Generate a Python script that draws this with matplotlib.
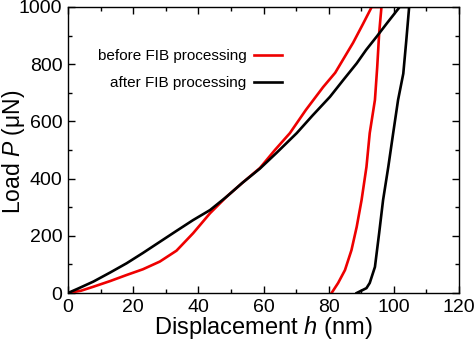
import numpy as np
import matplotlib
matplotlib.use('Agg')
import matplotlib.pyplot as plt
plt.rc('font', family='Liberation Sans', size=14)
matplotlib.rcParams['mathtext.fontset'] = 'custom'
matplotlib.rcParams['mathtext.rm'] = 'Liberation Sans'
matplotlib.rcParams['mathtext.it'] = 'Liberation Sans:italic'

# load-displacement curves (nm, uN), loading -> hold -> unloading
h_before = [0, 4, 7.8, 13, 18, 23, 28.2, 33.3, 38.4, 43.6, 48.7, 53.5, 58.9,
            63.5, 68.1, 73, 78.3, 82, 87.5, 90.5, 93.2, 96.2,
            95.5, 94.9, 94.2, 92.6, 91.6, 90.1, 88.6, 87, 85, 82.9, 80.9]
P_before = [0, 8, 22, 42, 63, 83, 110, 148, 209, 279, 337, 385, 437,
            500, 559, 640, 720, 770, 875, 940, 1000, 1000,
            909, 790, 675, 559, 441, 325, 231, 150, 80, 35, 0]

h_after = [0, 3, 7.8, 13, 18, 23, 28.2, 33, 38.4, 43.6, 48.7, 53.5, 58.9,
           64, 70.2, 75, 80.4, 84.5, 88.6, 91.5, 94.7, 98, 101.8, 104.7,
           103.8, 102.9, 101.3, 99.8, 98.3, 96.7, 95.5, 94.2, 92.6, 91.6, 88.6]
P_after = [0, 15, 40, 72, 104, 140, 179, 215, 255, 290, 337, 385, 435,
           490, 559, 620, 686, 745, 803, 850, 896, 945, 1000, 1000,
           880, 767, 675, 559, 441, 325, 210, 91, 35, 17, 0]

fig = plt.figure(figsize=(4.74, 3.43), dpi=100)
ax = fig.add_axes([68/474., 1-293/343., 391/474., 286/343.])

ax.plot(h_before, P_before, color='#ee0000', lw=1.9, label='before FIB processing')
ax.plot(h_after, P_after, color='black', lw=1.9, label='after FIB processing')

ax.set_xlim(0, 120)
ax.set_ylim(0, 1000)
ax.set_xticks(np.arange(0, 121, 20))
ax.set_xticks(np.arange(0, 121, 10), minor=True)
ax.set_yticks(np.arange(0, 1001, 200))
ax.set_yticks(np.arange(0, 1001, 100), minor=True)
ax.tick_params(which='both', direction='in', top=True, right=True, width=1)
ax.tick_params(which='major', length=5, labelsize=14, pad=4)
ax.tick_params(which='minor', length=3)
for s in ax.spines.values():
    s.set_linewidth(1)

ax.set_xlabel(r"Displacement $h$ (nm)", fontsize=17, labelpad=-1)
ax.set_ylabel(r"Load $P$ ($\mathrm{\mu}$N)", fontsize=16.5)
ax.yaxis.set_label_coords(-0.106, 0.493)

ax.legend(loc='upper left', bbox_to_anchor=(0.061, 0.875), frameon=False,
          markerfirst=False, fontsize=11, handlelength=1.8,
          labelspacing=0.88, handletextpad=0.5, borderaxespad=0)

fig.savefig("out.png", dpi=100)
